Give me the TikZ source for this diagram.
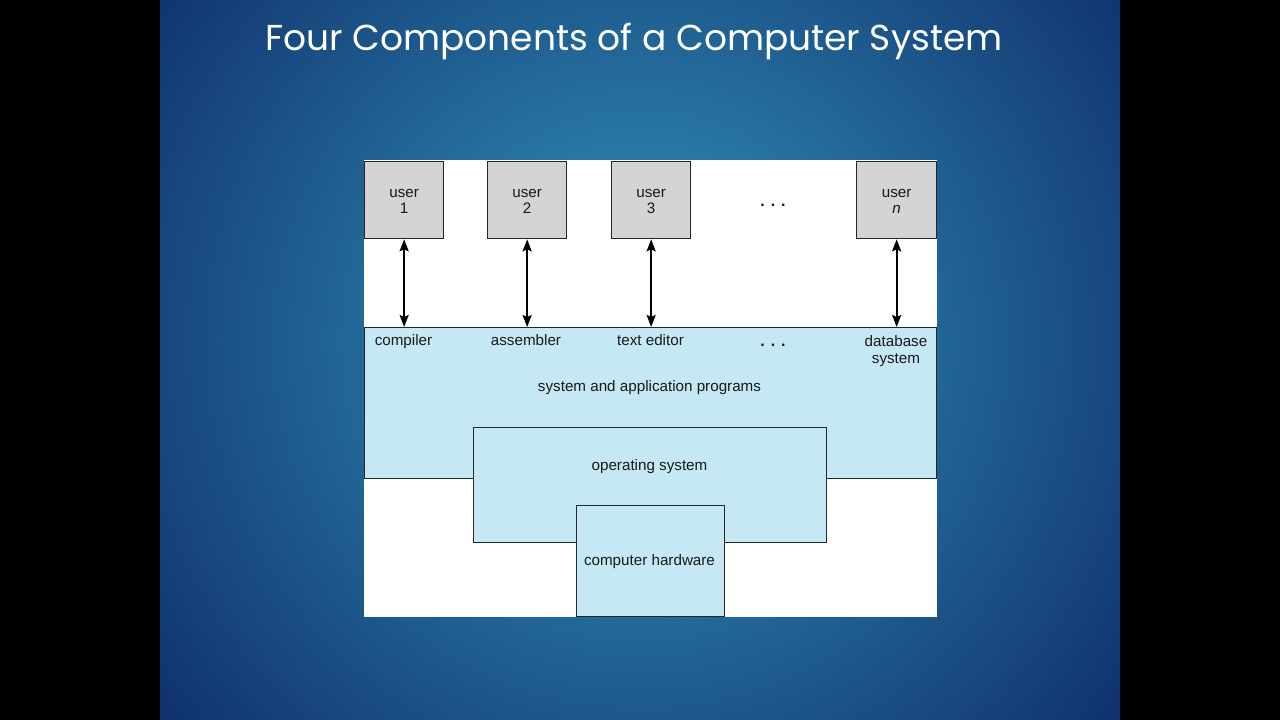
\documentclass[tikz,border=0pt]{standalone}
\usepackage{fontspec}
\setmainfont{Liberation Sans}
\newfontfamily\titlefont{Poppins}
\usetikzlibrary{arrows.meta}
\definecolor{bginner}{HTML}{2D86B0}
\definecolor{bgouter}{HTML}{0E2C68}
\definecolor{userfill}{HTML}{D4D4D4}
\definecolor{progfill}{HTML}{C6E8F5}
\definecolor{edgecol}{HTML}{262626}
\pgfdeclareradialshading{slidebg}{\pgfpoint{0bp}{0bp}}{color(0bp)=(bginner); color(4bp)=(bginner); color(25bp)=(bgouter); color(50bp)=(bgouter)}
\begin{document}
\begin{tikzpicture}[x=1pt,y=-1pt,
  lbl/.style={font=\fontsize{15.2}{16.5}\selectfont, text=black!90, align=center, inner sep=0pt},
  blbl/.style={lbl, anchor=base},
  dots/.style={lbl, font=\bfseries\fontsize{16}{16}\selectfont},
  userbox/.style={draw=edgecol, line width=1.3pt, fill=userfill, minimum width=79pt, minimum height=77pt, inner sep=0pt, anchor=north west},
  layer/.style={draw=edgecol, line width=1.3pt, fill=progfill, inner sep=0pt, anchor=north west},
  link/.style={line width=2pt, {Stealth[length=12pt,width=9pt,inset=2pt]}-{Stealth[length=12pt,width=9pt,inset=2pt]}}
]
\useasboundingbox (0,0) rectangle (1280,720);
\fill[black] (0,0) rectangle (1280,720);
\begin{scope}
  \clip (160,0) rectangle (1120,720);
  \shade[shading=slidebg] (640,340) circle (640);
\end{scope}
% title
\node[font=\titlefont\fontsize{36}{40}\selectfont, text=white, inner sep=0pt] (title) at (634,41) {Four Components of a Computer System};
% white panel
\fill[white] (364,160) rectangle (937,617);
% layers
\node[layer, minimum width=572pt, minimum height=151pt] (apps) at (364,327) {};
\node[layer, minimum width=353pt, minimum height=115pt] (os) at (473,427) {};
\node[layer, minimum width=148pt, minimum height=111pt] (hw) at (576,505) {};
% users
\node[userbox] (u1) at (364,161) {};
\node[userbox] (u2) at (487,161) {};
\node[userbox] (u3) at (611,161) {};
\node[userbox, minimum width=80pt] (un) at (856,161) {};
\node[lbl] (u1t) at ([yshift=-1.5pt]u1.center) {user\\1};
\node[lbl] (u2t) at ([yshift=-1.5pt]u2.center) {user\\2};
\node[lbl] (u3t) at ([yshift=-1.5pt]u3.center) {user\\3};
\node[lbl] (unt) at ([yshift=-1.5pt]un.center) {user\\\textit{n}};
\node[dots] (udots) at (773,205) {. . .};
% program labels
\node[blbl] (comp) at (403.5,345.5) {compiler};
\node[blbl] (asm) at (526,345.5) {assembler};
\node[blbl] (ted) at (650.5,345.5) {text editor};
\node[dots] (pdots) at (773,345) {. . .};
\node[lbl] (db) at (896,351) {database\\system};
\node[blbl] (sap) at (649.5,391) {system and application programs};
\node[blbl] (osl) at (649.5,470.5) {operating system};
\node[blbl] (hwl) at (649.5,565.5) {computer hardware};
% arrows
\draw[link] (u1.south) -- (u1.south |- apps.north);
\draw[link] (u2.south) -- (u2.south |- apps.north);
\draw[link] (u3.south) -- (u3.south |- apps.north);
\draw[link] (un.south) -- (un.south |- apps.north);
\end{tikzpicture}
\end{document}
